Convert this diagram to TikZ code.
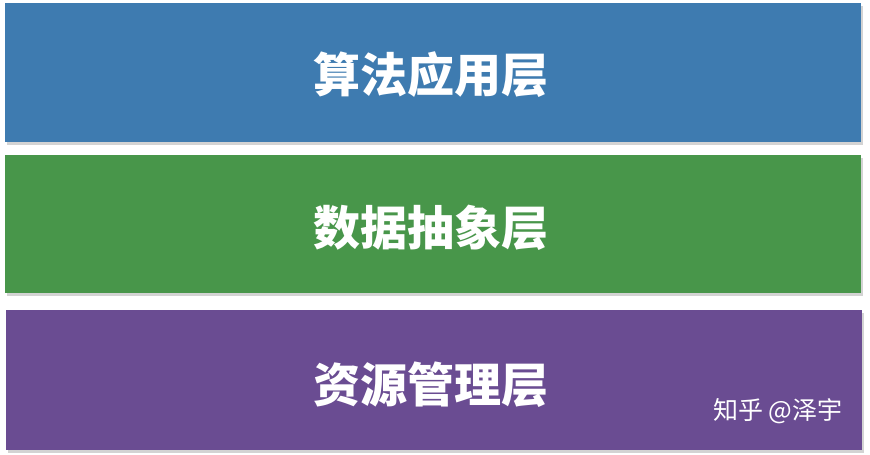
\documentclass[tikz,border=0pt]{standalone}
\usepackage{fontspec}
\newfontfamily\cjk{Noto Sans CJK SC}
\usetikzlibrary{shadows}

\definecolor{layerblue}{RGB}{62,123,176}
\definecolor{layergreen}{RGB}{72,150,74}
\definecolor{layerpurple}{RGB}{106,76,146}

\tikzset{
  layer/.style={rectangle, minimum width=856pt, minimum height=139pt, inner sep=0pt,
    drop shadow={shadow xshift=2pt, shadow yshift=-3pt, opacity=0.35}},
  layertext/.style={text=white, font=\cjk\bfseries\fontsize{47}{50}\selectfont},
}

\begin{document}
\begin{tikzpicture}[x=1pt,y=-1pt]
\useasboundingbox (0,0) rectangle (870,455);

% Layers
\node[layer, fill=layerblue] (algo) at (433,72.5) {};
\node[layer, fill=layergreen, minimum height=138pt] (data) at (433,224) {};
\node[layer, fill=layerpurple, minimum height=140pt] (res) at (433.5,380) {};

% Labels
\node[layertext] (algolabel) at (431,75) {算法应用层};
\node[layertext] (datalabel) at (431,228) {数据抽象层};
\node[layertext] (reslabel) at (431,385) {资源管理层};

% Watermark
\node[text=white, font=\cjk\fontsize{25}{28}\selectfont] (mark) at (778,411) {知乎 @泽宇};

\end{tikzpicture}
\end{document}
